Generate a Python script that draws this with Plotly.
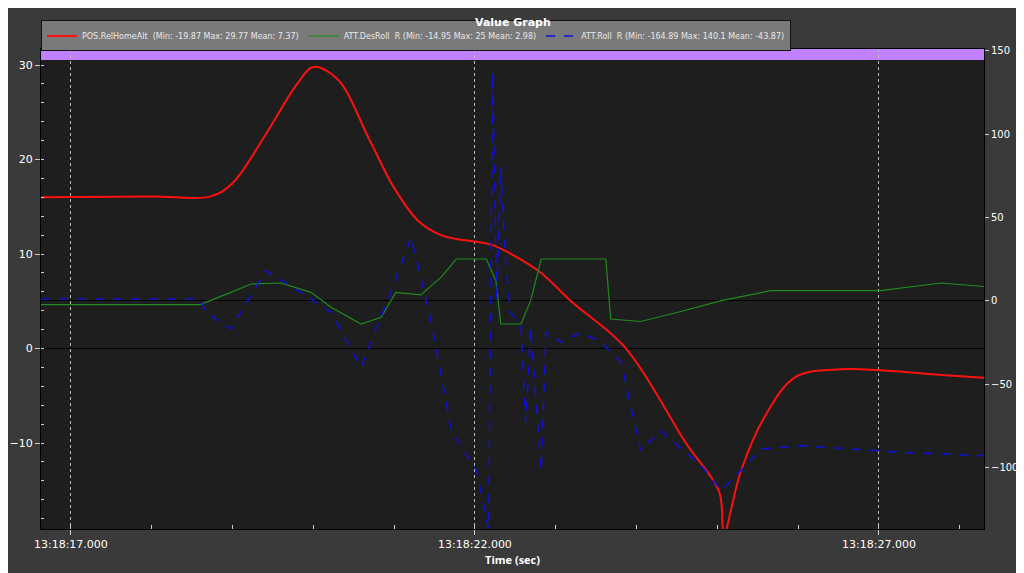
import plotly.graph_objects as go

# time in seconds after 13:18:17
red_t = [-0.37, 1.0, 1.73, 2.0, 2.4, 2.8, 3.0, 3.3, 3.7, 4.0, 4.3, 4.58, 4.77, 5.2, 5.45, 5.82, 6.19, 6.87, 7.61, 8.02, 8.07, 8.09, 8.29, 8.6, 8.97, 9.53, 10.02, 10.77, 11.3]
red_v = [16.0, 16.1, 16.1, 17.5, 22.5, 28.0, 29.8, 28.5, 22.0, 17.0, 13.5, 12.0, 11.6, 11.0, 10.0, 8.0, 5.0, 0.0, -10.0, -15.1, -19.1, -19.5, -13.0, -7.0, -3.0, -2.2, -2.3, -2.8, -3.1]

green_t = [-0.37, 1.6, 1.98, 2.23, 2.6, 2.97, 3.22, 3.59, 3.84, 4.02, 4.33, 4.58, 4.77, 5.14, 5.26, 5.32, 5.57, 5.69, 5.82, 6.62, 6.68, 7.05, 7.55, 8.05, 8.66, 9.41, 10.02, 10.77, 11.3]
green_v = [-2.4, -2.4, 5.0, 10.0, 10.6, 5.0, -4.0, -14.0, -10.0, 5.0, 3.5, 14.0, 25.0, 25.0, 12.0, -14.0, -14.0, 0.0, 25.0, 25.0, -11.0, -12.5, -6.5, 0.0, 6.0, 6.0, 6.0, 10.6, 8.5]

blue_t = [-0.37, 1.6, 1.67, 1.98, 2.41, 2.85, 3.22, 3.59, 3.96, 4.21, 4.46, 4.71, 5.02, 5.17, 5.22, 5.27, 5.32, 5.38, 5.44, 5.57, 5.63, 5.69, 5.82, 5.88, 6.07, 6.31, 6.56, 6.81, 7.05, 7.3, 7.8, 8.05, 8.29, 8.54, 9.04, 10.27, 11.3]
blue_v = [1.0, 1.0, -7.0, -17.0, 18.0, 5.0, -7.0, -40.0, 5.0, 38.0, -13.0, -78.0, -102.0, -137.0, 137.0, 0.0, 80.0, 23.0, -7.0, -16.0, -73.0, -16.0, -102.0, -19.0, -25.0, -19.0, -25.0, -37.0, -90.0, -78.0, -99.0, -114.0, -102.0, -89.0, -87.0, -91.0, -93.0]

tick_vals = [0, 5, 10]
tick_text = ["13:18:17.000", "13:18:22.000", "13:18:27.000"]

fig = go.Figure()
fig.add_trace(go.Scatter(x=red_t, y=red_v, mode="lines", line=dict(color="#ff1010", width=2),
                         line_shape="spline", name="POS.RelHomeAlt  (Min: -19.87 Max: 29.77 Mean: 7.37)"))
fig.add_trace(go.Scatter(x=green_t, y=green_v, mode="lines", line=dict(color="#1e8c1e", width=1.2),
                         name="ATT.DesRoll  R (Min: -14.95 Max: 25 Mean: 2.98)", yaxis="y2"))
fig.add_trace(go.Scatter(x=blue_t, y=blue_v, mode="lines", line=dict(color="#1010e0", width=1.5, dash="dash"),
                         name="ATT.Roll  R (Min: -164.89 Max: 140.1 Mean: -43.87)", yaxis="y2"))

axfont = dict(color="white", size=11, family="DejaVu Sans")
t_margin = 41
plot_h = 573 - t_margin - 52
fig.update_layout(
    width=1024, height=573,
    paper_bgcolor="#3a3a3a", plot_bgcolor="#1e1e1e",
    margin=dict(l=33, r=48, t=t_margin, b=52, autoexpand=False),
    showlegend=True,
    legend=dict(orientation="h", x=0.0, y=0.995, xanchor="left", yanchor="bottom",
                bgcolor="#7a7a7a", bordercolor="#101010", borderwidth=1,
                font=dict(color="#e8e8e8", size=8, family="DejaVu Sans"),
                tracegroupgap=0, itemwidth=30),
    annotations=[dict(text="<b>Value Graph</b>", xref="paper", yref="paper", x=0.5,
                      y=1 + (t_margin - 6) / plot_h, xanchor="center", yanchor="top", showarrow=False,
                      font=dict(color="white", size=11, family="DejaVu Sans"))],
    xaxis=dict(range=[-0.37, 11.3], tickvals=tick_vals, ticktext=tick_text, automargin=False,
               showgrid=True, gridcolor="#bbbbbb", griddash="dot", gridwidth=1,
               zeroline=False, tickfont=axfont, ticks="outside", ticklen=5, tickcolor="#cccccc",
               minor=dict(dtick=1, ticks="inside", ticklen=4, tickcolor="#cccccc"),
               title=dict(text="<b>Time (sec)</b>", font=dict(color="white", size=11), standoff=6),
               linecolor="#000", mirror=True, showline=True),
    yaxis=dict(range=[-19.1, 31.7], dtick=10, showgrid=False, zeroline=True, zerolinecolor="#000000",
               automargin=False, zerolinewidth=1, tickfont=axfont, ticks="outside", tickcolor="#cccccc",
               minor=dict(dtick=2, ticks="inside", ticklen=3, tickcolor="#cccccc"),
               linecolor="#000", mirror=True, showline=True),
    yaxis2=dict(range=[-137, 151], dtick=50, overlaying="y", side="right", showgrid=False,
                automargin=False, zeroline=True, zerolinecolor="#000000", zerolinewidth=1,
                tickfont=dict(color="white", size=10, family="DejaVu Sans"),
                ticks="outside", ticklen=4, tickcolor="#cccccc"),
    shapes=[dict(type="rect", xref="paper", yref="paper", x0=0, x1=1, y0=0.977, y1=1.0,
                 fillcolor="#c080ff", line=dict(width=0), layer="below")],
)
fig.write_html("out.html")
